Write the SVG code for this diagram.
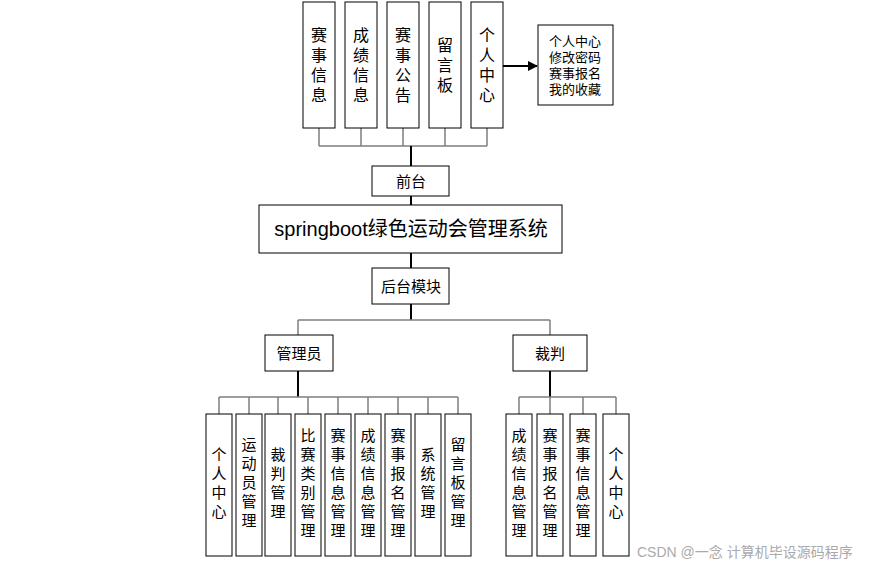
<svg xmlns="http://www.w3.org/2000/svg" width="896" height="567" viewBox="0 0 896 567">
<style>
.b{fill:#fff;stroke:#000;stroke-width:1}
.t{font-family:"Liberation Sans","Noto Sans CJK SC",sans-serif;font-size:16px;fill:#000;text-anchor:middle}
.s{font-size:15px}
.g{stroke:#7f7f7f;stroke-width:1.5;fill:none}
.k{stroke:#000;stroke-width:2;fill:none}
</style>
<defs><marker id="a" markerWidth="10" markerHeight="10" refX="9" refY="5" orient="auto" markerUnits="userSpaceOnUse"><path d="M0,0L10,5L0,10z" fill="#000"/></marker></defs>
<rect width="896" height="567" fill="#fff"/>
<g id="connectors">
<path class="g" d="M319,128V146M361,128V146M403,128V146M445,128V146M487,128V146M319,146H487"/>
<path class="k" d="M411,146V166M411,196V205M411,253V268M411,304V320"/>
<path class="g" d="M298,320H550M298,320V335M550,320V335"/>
<path class="k" d="M298,371V397M550,371V397"/>
<path class="g" d="M219,397H458M219,397V414M249,397V414M278,397V414M308,397V414M338,397V414M368,397V414M398,397V414M428,397V414M458,397V414"/>
<path class="g" d="M519,397H616M519,397V414M550,397V414M583,397V414M616,397V414"/>
<path stroke="#000" stroke-width="2" d="M503,66H537" marker-end="url(#a)"/>
</g>
<g id="top">
<g id="n1"><rect class="b" x="303" y="2" width="32" height="126"/><text class="t"><tspan x="319" y="41">赛</tspan><tspan x="319" y="61">事</tspan><tspan x="319" y="81">信</tspan><tspan x="319" y="101">息</tspan></text></g>
<g id="n2"><rect class="b" x="345" y="2" width="32" height="126"/><text class="t"><tspan x="361" y="41">成</tspan><tspan x="361" y="61">绩</tspan><tspan x="361" y="81">信</tspan><tspan x="361" y="101">息</tspan></text></g>
<g id="n3"><rect class="b" x="387" y="2" width="32" height="126"/><text class="t"><tspan x="403" y="41">赛</tspan><tspan x="403" y="61">事</tspan><tspan x="403" y="81">公</tspan><tspan x="403" y="101">告</tspan></text></g>
<g id="n4"><rect class="b" x="429" y="2" width="32" height="126"/><text class="t"><tspan x="445" y="51">留</tspan><tspan x="445" y="71">言</tspan><tspan x="445" y="91">板</tspan></text></g>
<g id="n5"><rect class="b" x="471" y="2" width="32" height="126"/><text class="t"><tspan x="487" y="41">个</tspan><tspan x="487" y="61">人</tspan><tspan x="487" y="81">中</tspan><tspan x="487" y="101">心</tspan></text></g>
<g id="n6"><rect class="b" x="538" y="25" width="75" height="80"/><text class="t" style="font-size:13px"><tspan x="575" y="46">个人中心</tspan><tspan x="575" y="62">修改密码</tspan><tspan x="575" y="78">赛事报名</tspan><tspan x="575" y="94">我的收藏</tspan></text></g>
</g>
<g id="qt"><rect class="b" x="372" y="166" width="77" height="30"/><text class="t" x="411" y="187" style="font-size:15px">前台</text></g>
<g id="main"><rect class="b" x="259" y="205" width="303" height="48"/><text class="t" x="411" y="236" style="font-size:20px">springboot绿色运动会管理系统</text></g>
<g id="ht"><rect class="b" x="372" y="268" width="77" height="36"/><text class="t" x="411" y="292" style="font-size:15px">后台模块</text></g>
<g id="admin"><rect class="b" x="265" y="335" width="68" height="36"/><text class="t" x="299" y="359" style="font-size:15px">管理员</text></g>
<g id="ref"><rect class="b" x="513" y="335" width="74" height="36"/><text class="t" x="550" y="359" style="font-size:15px">裁判</text></g>
<g id="bottom" class="t s">
<g id="a1"><rect class="b" x="206" y="414" width="26" height="142"/><text class="t s"><tspan x="219" y="460">个</tspan><tspan x="219" y="479">人</tspan><tspan x="219" y="498">中</tspan><tspan x="219" y="517">心</tspan></text></g>
<g id="a2"><rect class="b" x="236" y="414" width="26" height="142"/><text class="t s"><tspan x="249" y="450">运</tspan><tspan x="249" y="469">动</tspan><tspan x="249" y="488">员</tspan><tspan x="249" y="507">管</tspan><tspan x="249" y="526">理</tspan></text></g>
<g id="a3"><rect class="b" x="265" y="414" width="26" height="142"/><text class="t s"><tspan x="278" y="460">裁</tspan><tspan x="278" y="479">判</tspan><tspan x="278" y="498">管</tspan><tspan x="278" y="517">理</tspan></text></g>
<g id="a4"><rect class="b" x="295" y="414" width="26" height="142"/><text class="t s"><tspan x="308" y="441">比</tspan><tspan x="308" y="460">赛</tspan><tspan x="308" y="479">类</tspan><tspan x="308" y="498">别</tspan><tspan x="308" y="517">管</tspan><tspan x="308" y="536">理</tspan></text></g>
<g id="a5"><rect class="b" x="325" y="414" width="26" height="142"/><text class="t s"><tspan x="338" y="441">赛</tspan><tspan x="338" y="460">事</tspan><tspan x="338" y="479">信</tspan><tspan x="338" y="498">息</tspan><tspan x="338" y="517">管</tspan><tspan x="338" y="536">理</tspan></text></g>
<g id="a6"><rect class="b" x="355" y="414" width="26" height="142"/><text class="t s"><tspan x="368" y="441">成</tspan><tspan x="368" y="460">绩</tspan><tspan x="368" y="479">信</tspan><tspan x="368" y="498">息</tspan><tspan x="368" y="517">管</tspan><tspan x="368" y="536">理</tspan></text></g>
<g id="a7"><rect class="b" x="385" y="414" width="26" height="142"/><text class="t s"><tspan x="398" y="441">赛</tspan><tspan x="398" y="460">事</tspan><tspan x="398" y="479">报</tspan><tspan x="398" y="498">名</tspan><tspan x="398" y="517">管</tspan><tspan x="398" y="536">理</tspan></text></g>
<g id="a8"><rect class="b" x="415" y="414" width="26" height="142"/><text class="t s"><tspan x="428" y="460">系</tspan><tspan x="428" y="479">统</tspan><tspan x="428" y="498">管</tspan><tspan x="428" y="517">理</tspan></text></g>
<g id="a9"><rect class="b" x="445" y="414" width="26" height="142"/><text class="t s"><tspan x="458" y="450">留</tspan><tspan x="458" y="469">言</tspan><tspan x="458" y="488">板</tspan><tspan x="458" y="507">管</tspan><tspan x="458" y="526">理</tspan></text></g>
<g id="r1"><rect class="b" x="506" y="414" width="26" height="142"/><text class="t s"><tspan x="519" y="441">成</tspan><tspan x="519" y="460">绩</tspan><tspan x="519" y="479">信</tspan><tspan x="519" y="498">息</tspan><tspan x="519" y="517">管</tspan><tspan x="519" y="536">理</tspan></text></g>
<g id="r2"><rect class="b" x="537" y="414" width="26" height="142"/><text class="t s"><tspan x="550" y="441">赛</tspan><tspan x="550" y="460">事</tspan><tspan x="550" y="479">报</tspan><tspan x="550" y="498">名</tspan><tspan x="550" y="517">管</tspan><tspan x="550" y="536">理</tspan></text></g>
<g id="r3"><rect class="b" x="570" y="414" width="26" height="142"/><text class="t s"><tspan x="583" y="441">赛</tspan><tspan x="583" y="460">事</tspan><tspan x="583" y="479">信</tspan><tspan x="583" y="498">息</tspan><tspan x="583" y="517">管</tspan><tspan x="583" y="536">理</tspan></text></g>
<g id="r4"><rect class="b" x="603" y="414" width="26" height="142"/><text class="t s"><tspan x="616" y="460">个</tspan><tspan x="616" y="479">人</tspan><tspan x="616" y="498">中</tspan><tspan x="616" y="517">心</tspan></text></g>
</g>
<text x="637" y="557" style="font-family:'Liberation Sans','Noto Sans CJK SC',sans-serif;font-size:14px;fill:#aaa">CSDN @一念 计算机毕设源码程序</text>
</svg>
